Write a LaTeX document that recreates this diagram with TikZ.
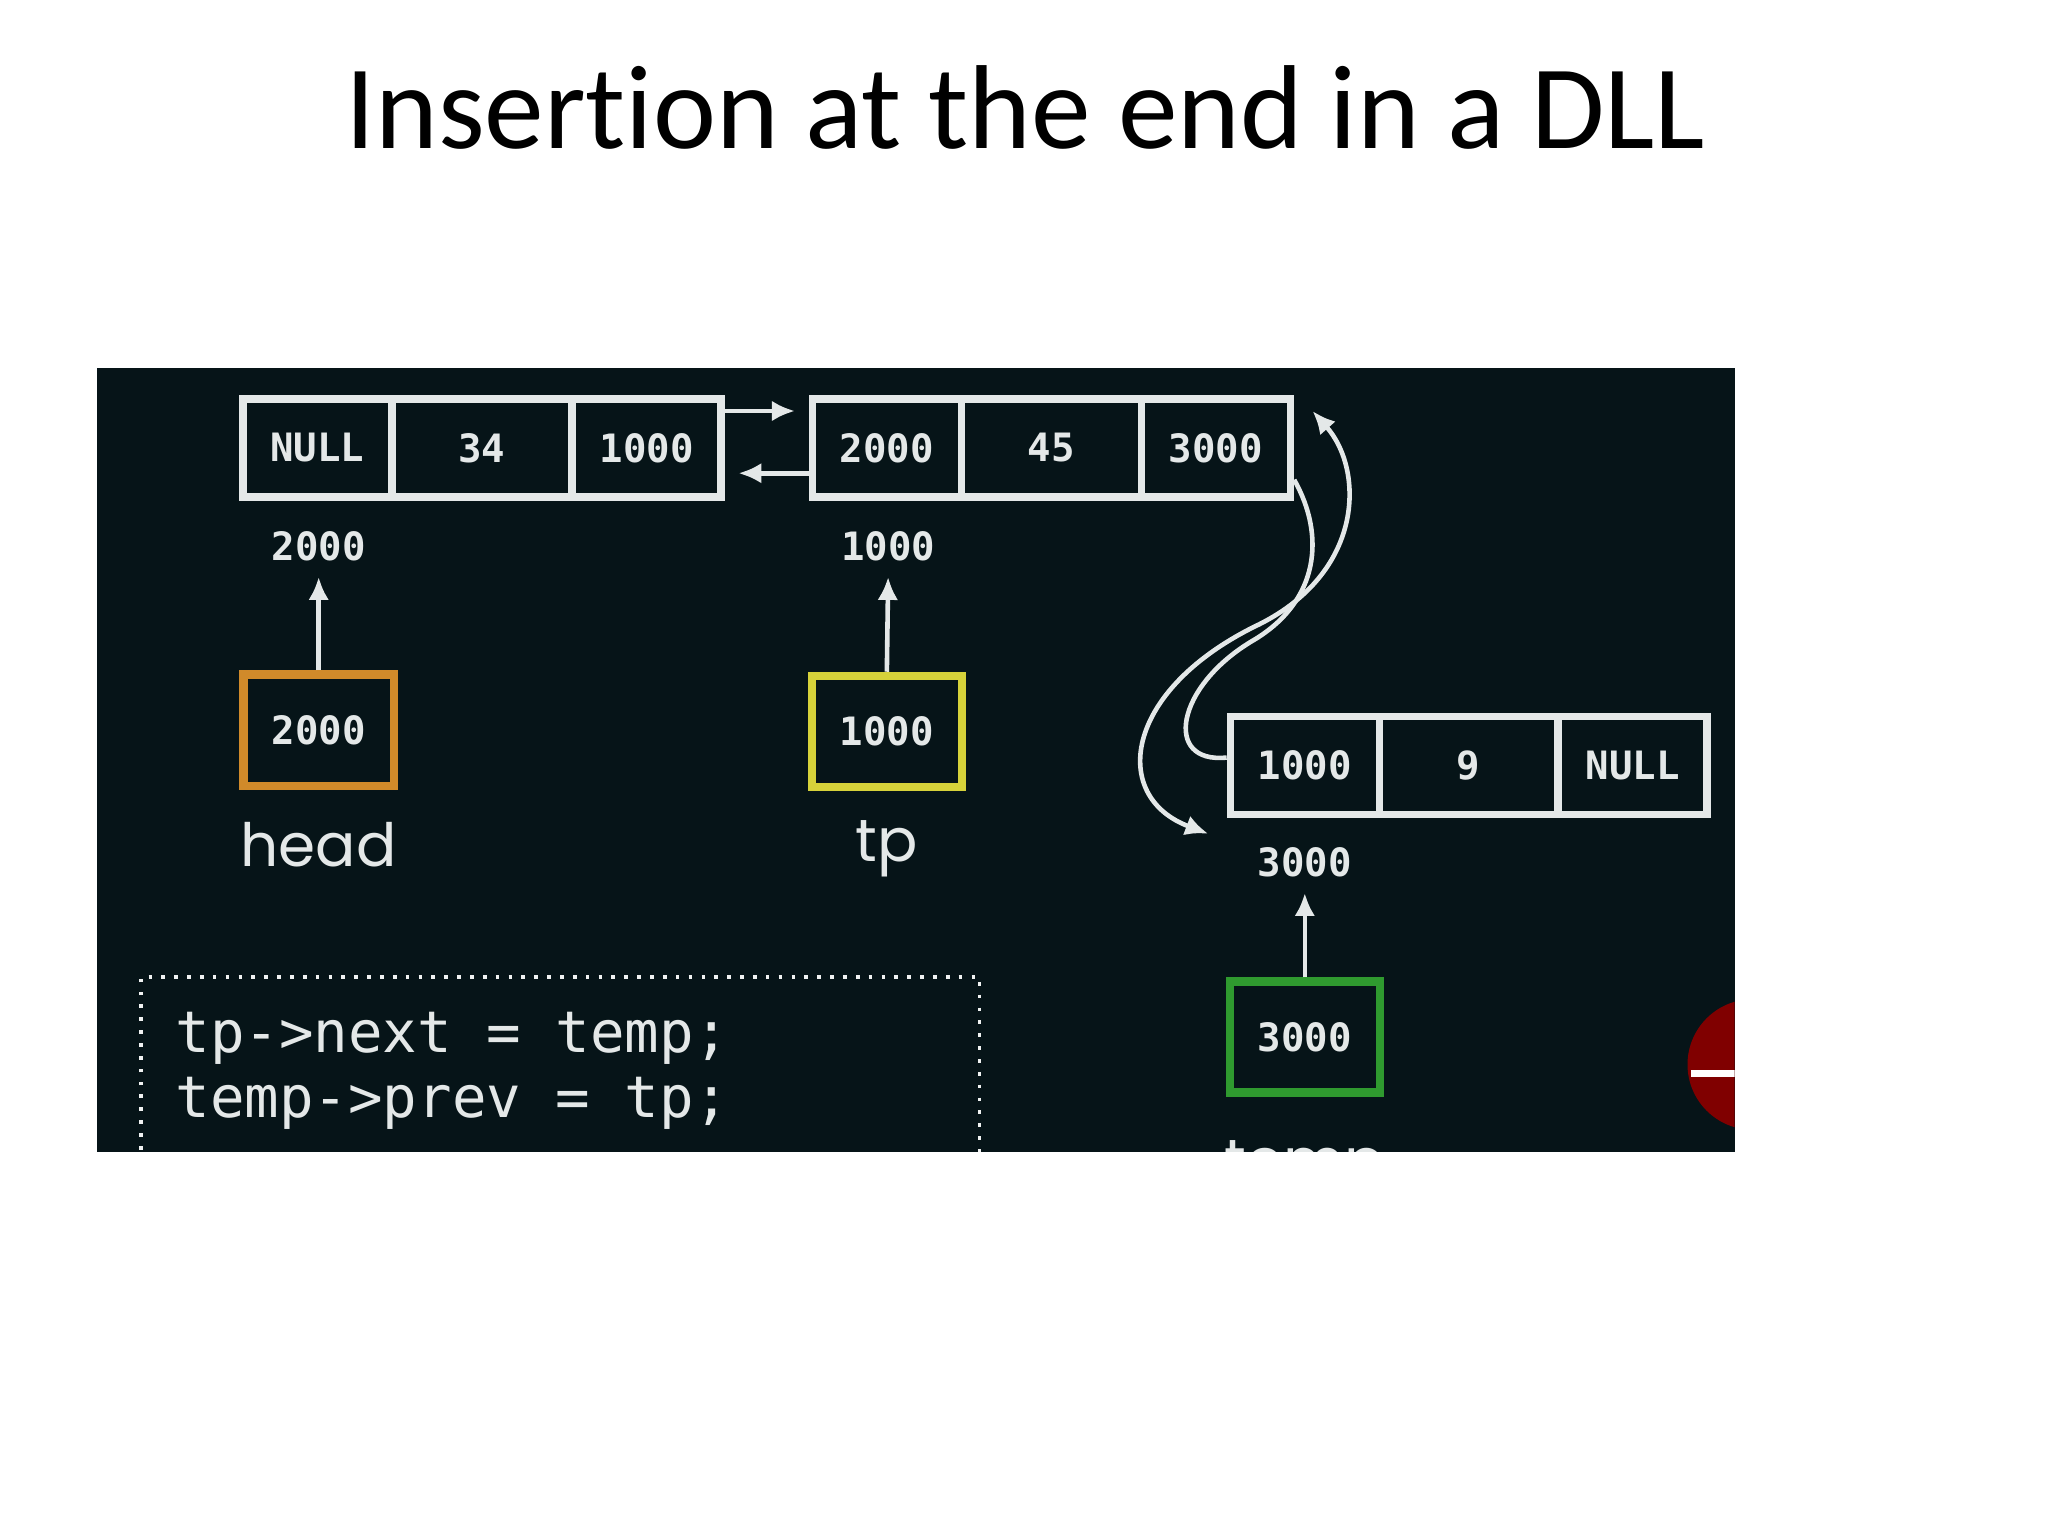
\documentclass[tikz,border=0pt]{standalone}
\usepackage{fontspec}
\usetikzlibrary{arrows.meta}
\setmainfont[Ligatures={NoCommon,NoRare}]{Carlito}
\newfontfamily\monof{DejaVu Sans Mono}
\newfontfamily\lblf{Poppins}
\definecolor{panel}{HTML}{061418}
\definecolor{ln}{HTML}{E4E8E8}
\definecolor{orng}{HTML}{D08A2A}
\definecolor{ylw}{HTML}{D6D23A}
\definecolor{grn}{HTML}{2F9A2F}
\begin{document}
\begin{tikzpicture}[x=0.01cm,y=-0.01cm,
  cell/.style={draw=ln,line width=1.6pt,minimum height=0.75cm,inner sep=0,text=ln,font=\monof\bfseries\fontsize{8.5}{10}\selectfont},
  ptrbox/.style={draw=#1,line width=1.8pt,minimum width=1.15cm,minimum height=0.85cm,inner sep=0,text=ln,font=\monof\bfseries\fontsize{8.5}{10}\selectfont},
  addr/.style={text=ln,font=\monof\bfseries\fontsize{8.5}{10}\selectfont},
  vname/.style={text=ln,font=\lblf\fontsize{13}{14}\selectfont},
  tip/.style={Latex[length=5pt,width=4.5pt]},
  con/.style={draw=ln,line width=1pt,-{Latex[length=5pt,width=4.5pt]}}]
\useasboundingbox (0,0) rectangle (1568,1176);
\node[font=\fontsize{26}{30}\selectfont] (title) at (785,82) {Insertion at the end in a DLL};
\fill[panel] (74,282) rectangle (1328,882);
\begin{scope}
\clip (74,282) rectangle (1328,882);
% node 1
\node[cell,minimum width=1.14cm] (a1) at (243,343) {NULL};
\node[cell,minimum width=1.38cm] (a2) at (369,343) {34};
\node[cell,minimum width=1.14cm] (a3) at (495,343) {1000};
% node 2
\node[cell,minimum width=1.14cm] (b1) at (679,343) {2000};
\node[cell,minimum width=1.38cm] (b2) at (805,343) {45};
\node[cell,minimum width=1.14cm] (b3) at (931,343) {3000};
% node 3
\node[cell,minimum width=1.14cm] (c1) at (999,586) {1000};
\node[cell,minimum width=1.37cm] (c2) at (1124.5,586) {9};
\node[cell,minimum width=1.14cm] (c3) at (1250,586) {NULL};
% addresses
\node[addr] (ad1) at (244,418) {2000};
\node[addr] (ad2) at (680,418) {1000};
\node[addr] (ad3) at (999,660) {3000};
% pointer boxes
\node[ptrbox=orng] (head) at (244,559) {2000};
\node[ptrbox=ylw] (tp) at (679,560) {1000};
\node[ptrbox=grn] (temp) at (999,794) {3000};
\node[vname] (hl) at (244,647) {head};
\node[vname] (tl) at (679,650) {tp};
\node[vname] (ml) at (999,895) {temp};
\draw[con] (head.north) -- (ad1.south);
\draw[con] (tp.north) -- (ad2.south);
\draw[con] (temp.north) -- (ad3.south);
% links
\draw[con] ([yshift=-0.12cm]a3.north east) -- ([yshift=-0.12cm,xshift=-3pt]b1.north west);
\draw[con] ([yshift=0.21cm]b1.south west) -- ([yshift=0.21cm,xshift=3pt]a3.south east);
\draw[draw=ln,line width=1pt] ([yshift=0.16cm]b3.south east) .. controls (1015,410) and (1010,460) .. (960,490) .. controls (900,525) and (890,585) .. ([yshift=0.06cm]c1.west);
\draw[draw=ln,line width=1pt,{Latex[length=5pt,width=4.5pt]}-{Latex[length=5pt,width=4.5pt]}] ([xshift=4pt,yshift=-0.12cm]b3.north east) .. controls (1045,360) and (1045,440) .. (960,480) .. controls (860,530) and (850,610) .. ([xshift=-4pt,yshift=-0.12cm]c1.south west);
% code box
\draw[ln!55,dotted,line width=0.8pt] (108,890) -- (108,748) -- (750,748) -- (750,890);
\node[anchor=west,text=ln,font=\monof\fontsize{12.5}{14}\selectfont] (code1) at (122,795) {tp->next = temp;};
\node[anchor=west,text=ln,font=\monof\fontsize{12.5}{14}\selectfont] (code2) at (122,845) {temp->prev = tp;};
% red button
\fill[red!50!black] (1342,815) circle (50);
\draw[white,line width=1.5pt] (1295,822) -- (1330,822);
\end{scope}
\end{tikzpicture}
\end{document}
